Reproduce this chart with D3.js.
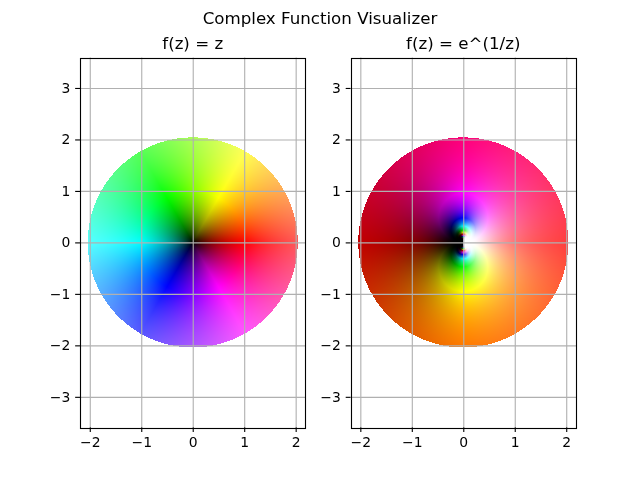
<!DOCTYPE html>
<html>
<head>
<meta charset="utf-8">
<title>Complex Function Visualizer</title>
<script src="https://cdn.jsdelivr.net/npm/d3@7"></script>
<style>
  html, body { margin: 0; padding: 0; background: #fff; }
  #wrap { position: relative; width: 640px; height: 480px; overflow: hidden; }
  canvas, svg { position: absolute; left: 0; top: 0; }
  text { font-family: "DejaVu Sans", sans-serif; fill: #000; }
  .tick text { font-size: 13.9px; }
  .frame { fill: none; stroke: #000; stroke-width: 1.11; }
  .grid line { stroke: #b0b0b0; stroke-width: 1.11; }
  .axis line { stroke: #000; stroke-width: 1.11; }
  .axis path, .grid path { display: none; }
</style>
</head>
<body>
<div id="wrap">
  <canvas id="disc" width="640" height="480"></canvas>
  <svg id="chart" width="640" height="480"></svg>
</div>
<script>
// DATA -----------------------------------------------------------------
var chartTitle = "Complex Function Visualizer";
var panelTitles = ["f(z) = z", "f(z) = e^(1/z)"];
var xTicks = [-2, -1, 0, 1, 2];
var yTicks = [-3, -2, -1, 0, 1, 2, 3];
var xLimits = [-2.19, 2.19];
var yLimits = [-3.59, 3.59];
var discRadius = 2.04;   // sampled disc in the z plane

// The two panels are the functions themselves, sampled over the disc.
// Each returns [modulus, argument] of f(z).
var panelFunctions = [
  function(re, im) {
    return [Math.sqrt(re * re + im * im), Math.atan2(im, re)];
  },
  function(re, im) {
    var d = re * re + im * im;
    return [Math.exp(re / d), -im / d];
  }
];

// LAYOUT ---------------------------------------------------------------
var panelLefts = [80, 350.55];
var panelWidth = 225.45;
var panelTop = 57.6;
var panelHeight = 369.6;

var svg = d3.select("#chart");
var ctx = document.getElementById("disc").getContext("2d");

// Hue from the argument, lightness from the modulus: 0 black, 1 full, inf white
function domainColor(w) {
  var hue = ((w[1] * 180 / Math.PI) % 360 + 360) % 360;
  var light = isFinite(w[0]) ? w[0] / (1 + w[0]) : 1;
  return d3.hsl(hue, 1, light).formatRgb();
}

svg.append("text")
  .attr("x", 320)
  .attr("y", 24)
  .attr("text-anchor", "middle")
  .style("font-size", "16.67px")
  .text(chartTitle);

panelTitles.forEach(function(title, i) {
  var left = panelLefts[i];

  var x = d3.scaleLinear().domain(xLimits).range([left, left + panelWidth]);
  var y = d3.scaleLinear().domain(yLimits).range([panelTop + panelHeight, panelTop]);

  // Draw the coloured disc on the canvas, one sample per screen pixel
  d3.range(Math.floor(x(-discRadius)), Math.ceil(x(discRadius))).forEach(function(px) {
    d3.range(Math.floor(y(discRadius)), Math.ceil(y(-discRadius))).forEach(function(py) {
      var re = x.invert(px + 0.5), im = y.invert(py + 0.5);
      if (re * re + im * im > discRadius * discRadius) return;
      ctx.fillStyle = domainColor(panelFunctions[i](re, im));
      ctx.fillRect(px, py, 1, 1);
    });
  });

  var g = svg.append("g");

  // Grid lines
  g.append("g")
    .attr("class", "grid")
    .attr("transform", "translate(0," + (panelTop + panelHeight) + ")")
    .call(d3.axisBottom(x).tickValues(xTicks).tickSize(-panelHeight).tickFormat(""));
  g.append("g")
    .attr("class", "grid")
    .attr("transform", "translate(" + left + ",0)")
    .call(d3.axisLeft(y).tickValues(yTicks).tickSize(-panelWidth).tickFormat(""));

  // Axes
  g.append("g")
    .attr("class", "axis")
    .attr("transform", "translate(0," + (panelTop + panelHeight) + ")")
    .call(d3.axisBottom(x).tickValues(xTicks).tickSize(4.86).tickPadding(4.86).tickFormat(d3.format("d")));
  g.append("g")
    .attr("class", "axis")
    .attr("transform", "translate(" + left + ",0)")
    .call(d3.axisLeft(y).tickValues(yTicks).tickSize(4.86).tickPadding(4.86).tickFormat(d3.format("d")));

  g.append("rect")
    .attr("class", "frame")
    .attr("x", Math.round(left) + 0.5)
    .attr("y", Math.round(panelTop) + 0.5)
    .attr("width", Math.round(panelWidth))
    .attr("height", Math.round(panelHeight));

  g.append("text")
    .attr("x", left + panelWidth / 2)
    .attr("y", panelTop - 9)
    .attr("text-anchor", "middle")
    .style("font-size", "16.67px")
    .text(title);
});
</script>
</body>
</html>
